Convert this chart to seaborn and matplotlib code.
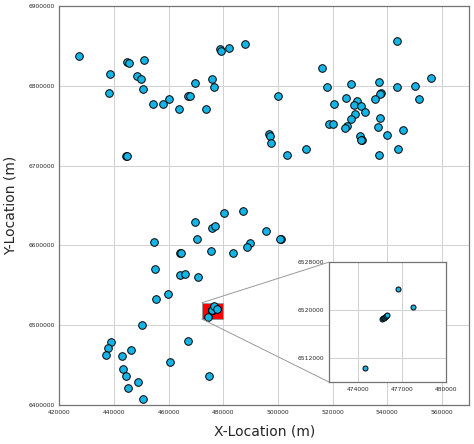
import numpy as np
import pandas as pd
import matplotlib
matplotlib.use("Agg")
import matplotlib.pyplot as plt
import seaborn as sns
from mpl_toolkits.axes_grid1.inset_locator import mark_inset

# ---- data ----
x_loc = [
    427100, 438550, 438070, 444380, 444700, 444640, 445370, 450950, 448540, 449750,
    450480, 454240, 457890, 460220, 463620, 467160, 467630, 469710, 473580, 475770,
    476500, 478690, 479200, 482120, 480040, 488070, 543660, 516180, 518000, 526870,
    536870, 537820, 537500, 535520, 543440, 550010, 555850, 551580, 499870, 520560,
    524830, 528950, 527970, 530410, 531870, 528340, 526760, 537240, 518730, 519940,
    525300, 524460, 536730, 539900, 545630, 530160, 530780, 530500, 543920, 536980,
    496580, 497090, 497450, 503150, 510220, 487340, 469460, 475770, 476870, 470440,
    454490, 464090, 464460, 475420, 483580, 454970, 463980, 466060, 470660, 459710,
    455220, 450110, 438800, 437820, 436860, 442920, 446350, 443290, 444270, 445000,
    448760, 450590, 460590, 466900, 474680, 495630, 501100, 500900, 489900, 488690,
    474450, 475650, 475720, 475780, 475850, 475920, 476000, 476700, 477730,
]
y_loc = [
    6837400, 6814400, 6791000, 6711700, 6711900, 6829450, 6828000, 6832340, 6812700, 6808150,
    6795600, 6776800, 6776800, 6783500, 6770560, 6787600, 6786850, 6803140, 6771300, 6808150,
    6798130, 6846120, 6844000, 6847000, 6641000, 6852400, 6856150, 6821940, 6798500, 6802640,
    6804400, 6790600, 6790000, 6783470, 6798500, 6800140, 6810160, 6783470, 6787230, 6776830,
    6784600, 6780960, 6775580, 6774700, 6766800, 6764680, 6758030, 6759280, 6752520, 6752520,
    6750020, 6746750, 6748000, 6738360, 6744630, 6737480, 6731720, 6732500, 6720820, 6713300,
    6739620, 6737100, 6727960, 6713680, 6720820, 6643500, 6628960, 6621450, 6624720, 6608040,
    6603900, 6590880, 6590500, 6593000, 6590500, 6570450, 6562940, 6563810, 6560800, 6539500,
    6533240, 6500300, 6479000, 6471470, 6462700, 6461450, 6468590, 6445160, 6436390, 6421730,
    6429240, 6407180, 6453530, 6479870, 6436770, 6618070, 6608040, 6608400, 6603000, 6598400,
    6510400, 6518450, 6518600, 6518750, 6518900, 6519050, 6519200, 6523500, 6520550,
]

x_ticks = [420000, 440000, 460000, 480000, 500000, 520000, 540000, 560000]
y_ticks = [6400000, 6500000, 6600000, 6700000, 6800000, 6900000]
inset_x_ticks = [474000, 477000, 480000]
inset_y_ticks = [6512000, 6520000, 6528000]

df = pd.DataFrame({"X": x_loc, "Y": y_loc})

sns.set_theme(style="whitegrid")
plt.rcParams["font.family"] = ["DejaVu Sans"]
plt.rcParams["axes.edgecolor"] = "0.45"
plt.rcParams["grid.color"] = "0.82"

fig = plt.figure(figsize=(4.74, 4.44), dpi=100)
ax = fig.add_axes([0.1255, 0.0878, 0.8645, 0.8987])

pt_color = "#14b4e6"
sns.scatterplot(data=df, x="X", y="Y", ax=ax, color=pt_color, edgecolor="black",
                linewidth=0.7, s=30, zorder=3)
ax.set_xlim(420000, 570000)
ax.set_ylim(6400000, 6900000)
ax.set_xticks(x_ticks)
ax.set_yticks(y_ticks)
ax.ticklabel_format(style="plain", useOffset=False)
ax.tick_params(labelsize=4.3, length=2, width=0.6, color="0.45", pad=1.5)
ax.set_xlabel("X-Location (m)", fontsize=10, labelpad=7)
ax.set_ylabel("Y-Location (m)", fontsize=10, labelpad=8)
for s in ax.spines.values():
    s.set_linewidth(0.9)
ax.grid(True, linewidth=0.7)

axins = fig.add_axes([0.694, 0.1396, 0.247, 0.270])
sns.scatterplot(data=df, x="X", y="Y", ax=axins, color=pt_color, edgecolor="black",
                linewidth=0.7, s=13, zorder=3, legend=False)
axins.set_xlim(472000, 480000)
axins.set_ylim(6508000, 6528000)
axins.set_xticks(inset_x_ticks)
axins.set_yticks(inset_y_ticks)
axins.ticklabel_format(style="plain", useOffset=False)
axins.tick_params(labelsize=4.3, length=2, width=0.6, color="0.45", pad=1.5)
axins.set_xlabel("")
axins.set_ylabel("")
axins.grid(True, linewidth=0.7)
for s in axins.spines.values():
    s.set_linewidth(0.9)

pp, p1, p2 = mark_inset(ax, axins, loc1=2, loc2=3, fc="red", ec="0.6", lw=0.7)
pp.set_zorder(2)

fig.savefig("out.png", dpi=100)
